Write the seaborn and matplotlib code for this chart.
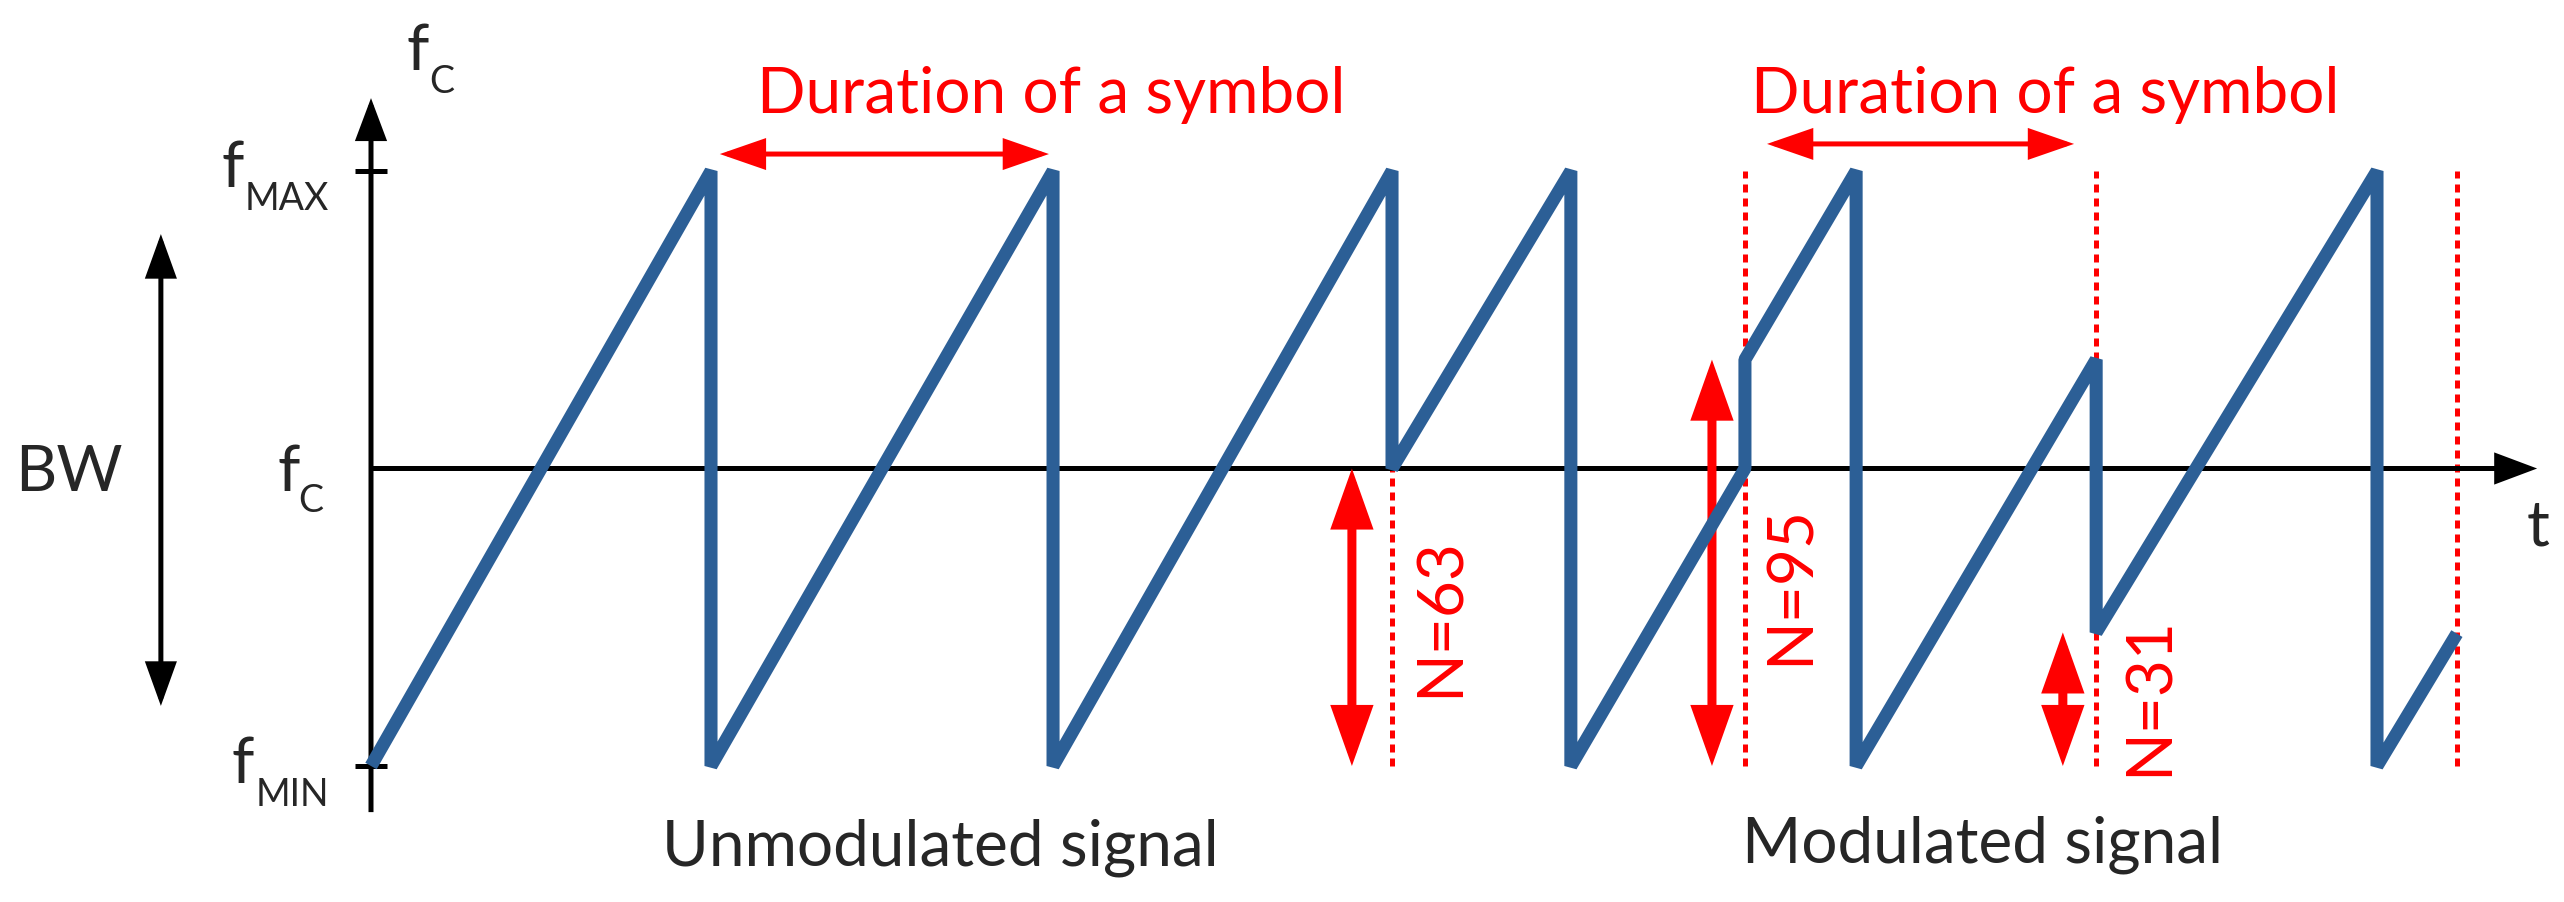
import matplotlib
matplotlib.use("Agg")
import matplotlib.pyplot as plt
from matplotlib.patches import FancyArrowPatch
import pandas as pd
import seaborn as sns

# chirp corners: time in symbol durations, frequency in BW/2 around fC (fC = 0)
chirp_t = [0.0, 1.0, 1.0, 2.006, 2.006, 3.003, 3.003, 3.529, 3.529,
           4.041, 4.041, 4.368, 4.368, 5.074, 5.074, 5.9, 5.9, 6.135]
chirp_f = [-1, 1, -1, 1, -1, 1, 0, 1, -1,
           0, 0.366, 1, -1, 0.366, -0.551, 1, -1, -0.555]

# modulated symbols
symbol_edges = [3.003, 4.041, 5.074, 6.135]
shift_labels = ["N=63", "N=95", "N=31"]
shift_start_f = [0.0, 0.366, -0.551]
shift_arrow_t = [2.885, 3.944, 4.976]
shift_label_t = [3.147, 4.174, 5.232]
shift_label_f = [-0.499, -0.392, -0.765]

BLUE = "#2c5f96"
RED = "#ff0000"
FS = 46


def arrow(ax, p0, p1, style, color, lw, hl, hw):
    ax.add_patch(FancyArrowPatch(
        p0, p1, arrowstyle=f"{style},head_length={hl},head_width={hw}",
        mutation_scale=1, color=color, lw=lw, shrinkA=0, shrinkB=0,
        joinstyle="miter", capstyle="butt", zorder=3))


def flabel(ax, x, y, sub, dx=0.066, dy=-0.078):
    ax.text(x, y, "f", fontsize=FS, ha="left", va="baseline")
    ax.text(x + dx, y + dy, sub, fontsize=27, ha="left", va="baseline")


def main():
    sns.set_theme(style="white")
    plt.rcParams["font.family"] = ["Lato", "DejaVu Sans"]

    fig = plt.figure(figsize=(25.64, 9.02), dpi=100)
    ax = fig.add_axes([0, 0, 1, 1])

    # axes with arrows
    arrow(ax, (0, -1.155), (0, 1.245), "-|>", "black", 3.6, 24, 9)
    arrow(ax, (0, 0), (6.371, 0), "-|>", "black", 3.6, 24, 9)
    ax.hlines([-1, 1], -0.047, 0.047, color="black", lw=3.6, zorder=3)

    # symbol boundaries
    ax.vlines(symbol_edges, -1.0, 1.0, color=RED, lw=3.6,
              linestyles=(0, (1.6, 1.2)), zorder=2)

    df = pd.DataFrame({"t": chirp_t, "f": chirp_f})
    sns.lineplot(data=df, x="t", y="f", sort=False, estimator=None,
                 color=BLUE, linewidth=9.4, ax=ax, zorder=5)
    ln = ax.lines[-1]
    ln.set_solid_joinstyle("bevel")
    ln.set_solid_capstyle("butt")
    ax.set_xlim(-371 / 340, (2564 - 371) / 340)
    ax.set_ylim((468.5 - 902) / 297.5, 468.5 / 297.5)
    ax.axis("off")

    # frequency labels
    flabel(ax, -0.44, 0.946, "MAX", dx=0.068)
    flabel(ax, -0.275, -0.076, "C", dx=0.062, dy=-0.07)
    flabel(ax, -0.41, -1.057, "MIN", dx=0.072)
    flabel(ax, 0.104, 1.339, "C", dx=0.068, dy=-0.077)
    ax.text(6.374, -0.258, "t", fontsize=FS, ha="center", va="baseline")

    # bandwidth
    ax.text(-0.888, -0.0756, "BW", fontsize=FS, ha="center", va="baseline")
    arrow(ax, (-0.618, -0.798), (-0.618, 0.788), "<|-|>", "black", 3.6, 25, 9)

    # symbol duration
    arrow(ax, (1.026, 1.057), (1.994, 1.057), "<|-|>", RED, 3.6, 26, 9)
    arrow(ax, (4.106, 1.091), (5.009, 1.091), "<|-|>", RED, 3.6, 26, 9)
    ax.text(2.002, 1.195, "Duration of a symbol", color=RED, fontsize=FS,
            ha="center", va="baseline")
    ax.text(4.924, 1.195, "Duration of a symbol", color=RED, fontsize=FS,
            ha="center", va="baseline")

    # cyclic shifts
    for x, top, lab, lx, ly in zip(shift_arrow_t, shift_start_f, shift_labels,
                                   shift_label_t, shift_label_f):
        arrow(ax, (x, -1.0), (x, top), "<|-|>", RED, 6.5, 31, 11)
        ax.text(lx, ly, lab, color=RED, fontsize=FS, rotation=90,
                ha="center", va="center")

    ax.text(1.676, -1.336, "Unmodulated signal", fontsize=FS,
            ha="center", va="baseline")
    ax.text(4.74, -1.326, "Modulated signal", fontsize=FS,
            ha="center", va="baseline")

    fig.savefig("out.png", dpi=100, facecolor="white")


if __name__ == "__main__":
    main()
